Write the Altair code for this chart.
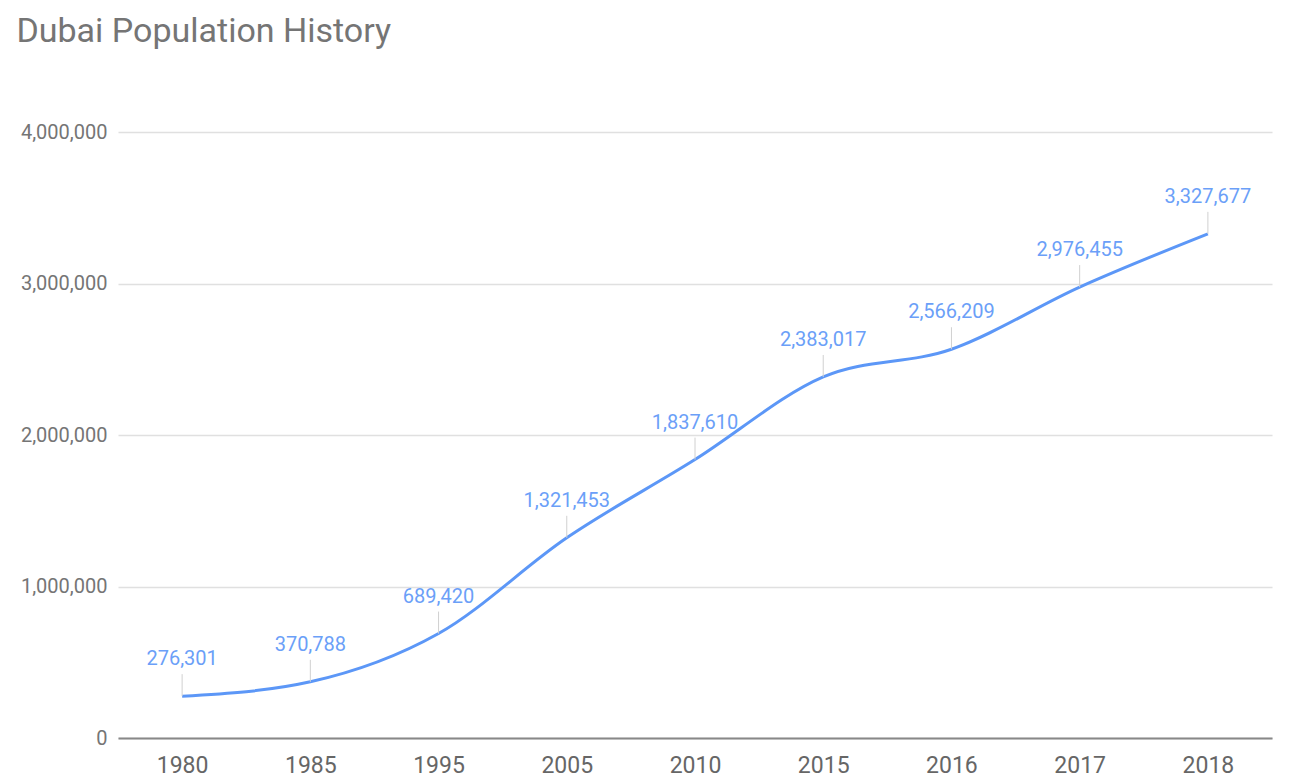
import altair as alt
import pandas as pd

years = ["1980", "1985", "1995", "2005", "2010", "2015", "2016", "2017", "2018"]
population = [276301, 370788, 689420, 1321453, 1837610, 2383017, 2566209, 2976455, 3327677]
y_ticks = [0, 1000000, 2000000, 3000000, 4000000]

df = pd.DataFrame({"year": years, "population": population})

x = alt.X("year:N", sort=years, scale=alt.Scale(type="point", padding=0.5),
          axis=alt.Axis(title=None, labelAngle=0, ticks=False, grid=False,
                        labelFontSize=23, labelColor="#666666", labelFont="Roboto",
                        labelPadding=16, domainColor="#888888", domainWidth=2))
y_axis = alt.Axis(title=None, values=y_ticks, labelExpr="format(datum.value, ',')",
                  ticks=False, domain=False, labelFontSize=20, labelColor="#757575",
                  labelFont="Roboto", labelPadding=11, gridColor="#e0e0e0", gridWidth=1.5)
y = alt.Y("population:Q", scale=alt.Scale(domain=[0, 4000000]), axis=y_axis)

base = alt.Chart(df)

line = base.mark_line(color="#5c97f7", strokeWidth=3, interpolate="monotone").encode(x=x, y=y)

leaders = base.mark_rule(color="#d0d0d0", strokeWidth=1, y2Offset=-22).encode(
    x=x, y=y, y2=alt.Y2("population:Q"))

labels = base.mark_text(dy=-31, baseline="alphabetic", align="center", fontSize=20,
                        font="Roboto", color="#6b9ff8").encode(
    x=x, y=y, text=alt.Text("population:Q", format=","))

chart = alt.layer(line, leaders, labels).properties(
    width=1154, height=606,
    title=alt.TitleParams("Dubai Population History", anchor="start", frame="bounds",
                          fontSize=34, font="Roboto", fontWeight="normal",
                          color="#757575", offset=73, dx=-4),
    autosize=alt.AutoSizeParams(type="none"),
    padding={"left": 110, "top": 124, "right": 20, "bottom": 44},
).configure(background="white").configure_view(strokeWidth=0, stroke="transparent")

chart.save("out.html", embed_options={"renderer": "svg", "actions": False})
